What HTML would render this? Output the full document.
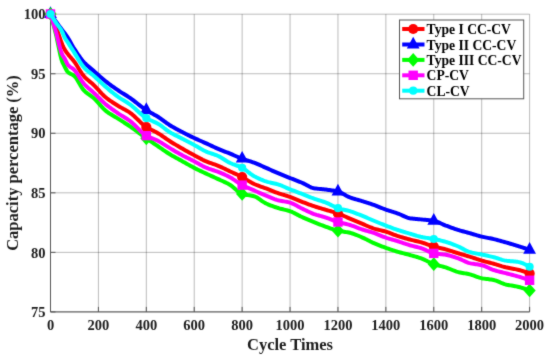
<!DOCTYPE html>
<html><head><meta charset="utf-8"><style>
html,body{margin:0;padding:0;background:#fff;}
body{width:550px;height:360px;overflow:hidden;}
svg{display:block;}
#w{width:550px;height:360px;}
.t{font-family:"Liberation Serif",serif;font-weight:bold;font-size:14.5px;fill:#1c1c1c;}
.lab{font-family:"Liberation Serif",serif;font-weight:bold;font-size:16.5px;fill:#1c1c1c;}
.lg{font-family:"Liberation Serif",serif;font-weight:bold;font-size:13.6px;fill:#000;}
</style></head><body>
<div id="w"><svg width="550" height="360" viewBox="0 0 550 360">
<defs><filter id="b" x="0" y="0" width="550" height="360" filterUnits="userSpaceOnUse" color-interpolation-filters="sRGB"><feConvolveMatrix order="3" kernelMatrix="0.02 0.08 0.02 0.08 0.60 0.08 0.02 0.08 0.02" divisor="1" edgeMode="duplicate"/></filter></defs>
<rect width="550" height="360" fill="#fff"/>
<g filter="url(#b)">
<rect width="550" height="360" fill="#fff"/>
<line x1="50.50" y1="14.2" x2="50.50" y2="311.9" stroke="#000" stroke-opacity="0.27" stroke-width="1"/>
<line x1="98.41" y1="14.2" x2="98.41" y2="311.9" stroke="#000" stroke-opacity="0.27" stroke-width="1"/>
<line x1="146.32" y1="14.2" x2="146.32" y2="311.9" stroke="#000" stroke-opacity="0.27" stroke-width="1"/>
<line x1="194.23" y1="14.2" x2="194.23" y2="311.9" stroke="#000" stroke-opacity="0.27" stroke-width="1"/>
<line x1="242.14" y1="14.2" x2="242.14" y2="311.9" stroke="#000" stroke-opacity="0.27" stroke-width="1"/>
<line x1="290.05" y1="14.2" x2="290.05" y2="311.9" stroke="#000" stroke-opacity="0.27" stroke-width="1"/>
<line x1="337.96" y1="14.2" x2="337.96" y2="311.9" stroke="#000" stroke-opacity="0.27" stroke-width="1"/>
<line x1="385.87" y1="14.2" x2="385.87" y2="311.9" stroke="#000" stroke-opacity="0.27" stroke-width="1"/>
<line x1="433.78" y1="14.2" x2="433.78" y2="311.9" stroke="#000" stroke-opacity="0.27" stroke-width="1"/>
<line x1="481.69" y1="14.2" x2="481.69" y2="311.9" stroke="#000" stroke-opacity="0.27" stroke-width="1"/>
<line x1="529.60" y1="14.2" x2="529.60" y2="311.9" stroke="#000" stroke-opacity="0.27" stroke-width="1"/>
<line x1="50.5" y1="14.20" x2="529.6" y2="14.20" stroke="#000" stroke-opacity="0.27" stroke-width="1"/>
<line x1="50.5" y1="73.74" x2="529.6" y2="73.74" stroke="#000" stroke-opacity="0.27" stroke-width="1"/>
<line x1="50.5" y1="133.28" x2="529.6" y2="133.28" stroke="#000" stroke-opacity="0.27" stroke-width="1"/>
<line x1="50.5" y1="192.82" x2="529.6" y2="192.82" stroke="#000" stroke-opacity="0.27" stroke-width="1"/>
<line x1="50.5" y1="252.36" x2="529.6" y2="252.36" stroke="#000" stroke-opacity="0.27" stroke-width="1"/>
<line x1="50.5" y1="311.90" x2="529.6" y2="311.90" stroke="#000" stroke-opacity="0.27" stroke-width="1"/>
<line x1="50.50" y1="311.9" x2="50.50" y2="306.9" stroke="#555" stroke-width="1"/>
<line x1="98.41" y1="311.9" x2="98.41" y2="306.9" stroke="#555" stroke-width="1"/>
<line x1="146.32" y1="311.9" x2="146.32" y2="306.9" stroke="#555" stroke-width="1"/>
<line x1="194.23" y1="311.9" x2="194.23" y2="306.9" stroke="#555" stroke-width="1"/>
<line x1="242.14" y1="311.9" x2="242.14" y2="306.9" stroke="#555" stroke-width="1"/>
<line x1="290.05" y1="311.9" x2="290.05" y2="306.9" stroke="#555" stroke-width="1"/>
<line x1="337.96" y1="311.9" x2="337.96" y2="306.9" stroke="#555" stroke-width="1"/>
<line x1="385.87" y1="311.9" x2="385.87" y2="306.9" stroke="#555" stroke-width="1"/>
<line x1="433.78" y1="311.9" x2="433.78" y2="306.9" stroke="#555" stroke-width="1"/>
<line x1="481.69" y1="311.9" x2="481.69" y2="306.9" stroke="#555" stroke-width="1"/>
<line x1="529.60" y1="311.9" x2="529.60" y2="306.9" stroke="#555" stroke-width="1"/>
<line x1="50.5" y1="14.20" x2="55.5" y2="14.20" stroke="#555" stroke-width="1"/>
<line x1="50.5" y1="73.74" x2="55.5" y2="73.74" stroke="#555" stroke-width="1"/>
<line x1="50.5" y1="133.28" x2="55.5" y2="133.28" stroke="#555" stroke-width="1"/>
<line x1="50.5" y1="192.82" x2="55.5" y2="192.82" stroke="#555" stroke-width="1"/>
<line x1="50.5" y1="252.36" x2="55.5" y2="252.36" stroke="#555" stroke-width="1"/>
<line x1="50.5" y1="311.90" x2="55.5" y2="311.90" stroke="#555" stroke-width="1"/>
<path d="M50.5,14.2 V311.9 H529.6" fill="none" stroke="#555" stroke-width="1"/>
<path d="M50.50,14.00 L51.70,16.60 L52.90,19.33 L54.09,22.18 L55.29,25.13 L56.49,28.18 L57.69,31.51 L58.88,35.10 L60.08,38.70 L61.28,42.08 L62.48,45.00 L63.68,47.61 L64.87,49.85 L66.07,51.71 L67.27,53.33 L68.47,54.86 L69.66,56.29 L70.86,57.63 L72.06,58.97 L73.26,60.37 L74.45,61.91 L75.65,63.64 L76.85,65.51 L78.05,67.45 L79.25,69.42 L80.44,71.35 L81.64,73.19 L82.84,74.86 L84.04,76.33 L85.23,77.60 L86.43,78.76 L87.63,79.83 L88.83,80.85 L90.03,81.83 L91.22,82.82 L92.42,83.84 L93.62,84.92 L94.82,86.08 L96.01,87.31 L97.21,88.60 L98.41,89.91 L99.61,91.23 L100.81,92.55 L102.00,93.83 L103.20,95.06 L104.40,96.22 L105.60,97.29 L106.79,98.27 L107.99,99.19 L109.19,100.07 L110.39,100.91 L111.59,101.71 L112.78,102.50 L113.98,103.26 L115.18,104.01 L116.38,104.76 L117.57,105.50 L118.77,106.24 L119.97,106.94 L121.17,107.62 L122.36,108.27 L123.56,108.92 L124.76,109.56 L125.96,110.23 L127.16,110.92 L128.35,111.65 L129.55,112.42 L130.75,113.27 L131.95,114.20 L133.14,115.22 L134.34,116.29 L135.54,117.42 L136.74,118.57 L137.94,119.75 L139.13,120.92 L140.33,122.07 L141.53,123.20 L142.73,124.27 L143.92,125.28 L145.12,126.21 L146.32,127.05 L147.52,127.80 L148.72,128.48 L149.91,129.12 L151.11,129.73 L152.31,130.32 L153.51,130.90 L154.70,131.48 L155.90,132.09 L157.10,132.74 L158.30,133.43 L159.50,134.17 L160.69,134.95 L161.89,135.75 L163.09,136.57 L164.29,137.41 L165.48,138.24 L166.68,139.07 L167.88,139.89 L169.08,140.68 L170.28,141.45 L171.47,142.20 L172.67,142.94 L173.87,143.67 L175.07,144.39 L176.26,145.10 L177.46,145.81 L178.66,146.51 L179.86,147.21 L181.05,147.91 L182.25,148.60 L183.45,149.28 L184.65,149.96 L185.85,150.64 L187.04,151.31 L188.24,151.98 L189.44,152.64 L190.64,153.30 L191.83,153.95 L193.03,154.60 L194.23,155.24 L195.43,155.89 L196.63,156.54 L197.82,157.20 L199.02,157.85 L200.22,158.50 L201.42,159.13 L202.61,159.75 L203.81,160.34 L205.01,160.90 L206.21,161.42 L207.41,161.91 L208.60,162.37 L209.80,162.81 L211.00,163.23 L212.20,163.64 L213.39,164.05 L214.59,164.47 L215.79,164.90 L216.99,165.35 L218.19,165.84 L219.38,166.35 L220.58,166.88 L221.78,167.43 L222.98,167.99 L224.17,168.57 L225.37,169.15 L226.57,169.73 L227.77,170.31 L228.96,170.88 L230.16,171.44 L231.36,171.99 L232.56,172.54 L233.76,173.08 L234.95,173.61 L236.15,174.16 L237.35,174.70 L238.55,175.26 L239.74,175.83 L240.94,176.42 L242.14,177.03 L243.34,177.68 L244.54,178.38 L245.73,179.10 L246.93,179.85 L248.13,180.61 L249.33,181.36 L250.52,182.08 L251.72,182.77 L252.92,183.41 L254.12,183.99 L255.32,184.51 L256.51,185.00 L257.71,185.47 L258.91,185.91 L260.11,186.34 L261.30,186.77 L262.50,187.18 L263.70,187.61 L264.90,188.04 L266.10,188.49 L267.29,188.96 L268.49,189.43 L269.69,189.91 L270.89,190.39 L272.08,190.87 L273.28,191.35 L274.48,191.81 L275.68,192.27 L276.87,192.72 L278.07,193.14 L279.27,193.55 L280.47,193.94 L281.67,194.31 L282.86,194.68 L284.06,195.04 L285.26,195.40 L286.46,195.76 L287.65,196.14 L288.85,196.54 L290.05,196.95 L291.25,197.39 L292.45,197.85 L293.64,198.34 L294.84,198.83 L296.04,199.34 L297.24,199.84 L298.43,200.35 L299.63,200.85 L300.83,201.33 L302.03,201.81 L303.23,202.27 L304.42,202.72 L305.62,203.18 L306.82,203.63 L308.02,204.08 L309.21,204.52 L310.41,204.95 L311.61,205.38 L312.81,205.79 L314.00,206.20 L315.20,206.59 L316.40,206.98 L317.60,207.35 L318.80,207.72 L319.99,208.08 L321.19,208.44 L322.39,208.80 L323.59,209.16 L324.78,209.51 L325.98,209.87 L327.18,210.23 L328.38,210.57 L329.58,210.91 L330.77,211.25 L331.97,211.58 L333.17,211.92 L334.37,212.28 L335.56,212.65 L336.76,213.03 L337.96,213.44 L339.16,213.89 L340.36,214.37 L341.55,214.87 L342.75,215.40 L343.95,215.95 L345.15,216.50 L346.34,217.06 L347.54,217.61 L348.74,218.15 L349.94,218.67 L351.14,219.18 L352.33,219.68 L353.53,220.19 L354.73,220.69 L355.93,221.19 L357.12,221.69 L358.32,222.18 L359.52,222.68 L360.72,223.17 L361.92,223.67 L363.11,224.17 L364.31,224.68 L365.51,225.21 L366.71,225.73 L367.90,226.25 L369.10,226.76 L370.30,227.24 L371.50,227.71 L372.69,228.15 L373.89,228.55 L375.09,228.91 L376.29,229.24 L377.49,229.54 L378.68,229.84 L379.88,230.12 L381.08,230.40 L382.28,230.68 L383.47,230.98 L384.67,231.30 L385.87,231.65 L387.07,232.03 L388.27,232.45 L389.46,232.89 L390.66,233.35 L391.86,233.82 L393.06,234.30 L394.25,234.76 L395.45,235.22 L396.65,235.65 L397.85,236.05 L399.05,236.44 L400.24,236.81 L401.44,237.17 L402.64,237.52 L403.84,237.87 L405.03,238.21 L406.23,238.54 L407.43,238.87 L408.63,239.20 L409.82,239.52 L411.02,239.83 L412.22,240.13 L413.42,240.41 L414.62,240.70 L415.81,240.98 L417.01,241.26 L418.21,241.55 L419.41,241.85 L420.60,242.16 L421.80,242.49 L423.00,242.85 L424.20,243.25 L425.40,243.66 L426.59,244.10 L427.79,244.53 L428.99,244.97 L430.19,245.40 L431.38,245.81 L432.58,246.20 L433.78,246.55 L434.98,246.87 L436.18,247.17 L437.37,247.44 L438.57,247.71 L439.77,247.97 L440.97,248.23 L442.16,248.50 L443.36,248.77 L444.56,249.06 L445.76,249.37 L446.96,249.70 L448.15,250.06 L449.35,250.43 L450.55,250.82 L451.75,251.21 L452.94,251.61 L454.14,252.00 L455.34,252.40 L456.54,252.78 L457.74,253.15 L458.93,253.52 L460.13,253.87 L461.33,254.22 L462.53,254.57 L463.72,254.92 L464.92,255.26 L466.12,255.61 L467.32,255.96 L468.51,256.32 L469.71,256.69 L470.91,257.07 L472.11,257.45 L473.31,257.85 L474.50,258.25 L475.70,258.65 L476.90,259.05 L478.10,259.45 L479.29,259.84 L480.49,260.21 L481.69,260.57 L482.89,260.91 L484.09,261.24 L485.28,261.56 L486.48,261.87 L487.68,262.18 L488.88,262.48 L490.07,262.79 L491.27,263.10 L492.47,263.42 L493.67,263.75 L494.87,264.09 L496.06,264.45 L497.26,264.82 L498.46,265.20 L499.66,265.57 L500.85,265.94 L502.05,266.31 L503.25,266.65 L504.45,266.98 L505.64,267.28 L506.84,267.55 L508.04,267.80 L509.24,268.04 L510.44,268.26 L511.63,268.47 L512.83,268.69 L514.03,268.92 L515.23,269.15 L516.42,269.41 L517.62,269.68 L518.82,269.98 L520.02,270.30 L521.22,270.64 L522.41,270.99 L523.61,271.35 L524.81,271.74 L526.01,272.13 L527.20,272.54 L528.40,272.95 L529.60,273.38" fill="none" stroke="#ff0000" stroke-width="4.0" stroke-linejoin="round" stroke-linecap="round"/>
<circle cx="50.50" cy="14.00" r="5.1" fill="#ff0000"/>
<circle cx="146.32" cy="127.05" r="5.1" fill="#ff0000"/>
<circle cx="242.14" cy="177.03" r="5.1" fill="#ff0000"/>
<circle cx="337.96" cy="213.44" r="5.1" fill="#ff0000"/>
<circle cx="433.78" cy="246.55" r="5.1" fill="#ff0000"/>
<circle cx="529.60" cy="273.38" r="5.1" fill="#ff0000"/>
<path d="M50.50,14.00 L51.70,15.66 L52.90,17.31 L54.09,18.97 L55.29,20.62 L56.49,22.27 L57.69,23.92 L58.88,25.57 L60.08,27.20 L61.28,28.79 L62.48,30.37 L63.68,31.95 L64.87,33.56 L66.07,35.22 L67.27,36.95 L68.47,38.79 L69.66,40.82 L70.86,42.97 L72.06,45.12 L73.26,47.20 L74.45,49.10 L75.65,50.94 L76.85,52.76 L78.05,54.53 L79.25,56.26 L80.44,57.91 L81.64,59.48 L82.84,60.95 L84.04,62.31 L85.23,63.56 L86.43,64.72 L87.63,65.82 L88.83,66.86 L90.03,67.87 L91.22,68.87 L92.42,69.87 L93.62,70.89 L94.82,71.94 L96.01,73.00 L97.21,74.06 L98.41,75.12 L99.61,76.18 L100.81,77.22 L102.00,78.25 L103.20,79.26 L104.40,80.25 L105.60,81.22 L106.79,82.16 L107.99,83.09 L109.19,83.99 L110.39,84.89 L111.59,85.76 L112.78,86.63 L113.98,87.48 L115.18,88.32 L116.38,89.15 L117.57,89.97 L118.77,90.78 L119.97,91.57 L121.17,92.33 L122.36,93.08 L123.56,93.82 L124.76,94.55 L125.96,95.30 L127.16,96.05 L128.35,96.82 L129.55,97.62 L130.75,98.45 L131.95,99.31 L133.14,100.21 L134.34,101.12 L135.54,102.06 L136.74,103.00 L137.94,103.95 L139.13,104.90 L140.33,105.83 L141.53,106.75 L142.73,107.65 L143.92,108.52 L145.12,109.36 L146.32,110.15 L147.52,110.90 L148.72,111.61 L149.91,112.28 L151.11,112.94 L152.31,113.59 L153.51,114.23 L154.70,114.89 L155.90,115.56 L157.10,116.27 L158.30,117.01 L159.50,117.80 L160.69,118.64 L161.89,119.51 L163.09,120.39 L164.29,121.28 L165.48,122.17 L166.68,123.05 L167.88,123.89 L169.08,124.70 L170.28,125.46 L171.47,126.19 L172.67,126.90 L173.87,127.59 L175.07,128.26 L176.26,128.92 L177.46,129.57 L178.66,130.21 L179.86,130.84 L181.05,131.47 L182.25,132.10 L183.45,132.73 L184.65,133.34 L185.85,133.95 L187.04,134.56 L188.24,135.15 L189.44,135.75 L190.64,136.33 L191.83,136.91 L193.03,137.48 L194.23,138.05 L195.43,138.60 L196.63,139.15 L197.82,139.69 L199.02,140.22 L200.22,140.74 L201.42,141.27 L202.61,141.79 L203.81,142.32 L205.01,142.85 L206.21,143.39 L207.41,143.94 L208.60,144.49 L209.80,145.05 L211.00,145.61 L212.20,146.16 L213.39,146.72 L214.59,147.27 L215.79,147.81 L216.99,148.34 L218.19,148.86 L219.38,149.36 L220.58,149.86 L221.78,150.34 L222.98,150.82 L224.17,151.30 L225.37,151.77 L226.57,152.25 L227.77,152.73 L228.96,153.21 L230.16,153.70 L231.36,154.20 L232.56,154.71 L233.76,155.23 L234.95,155.75 L236.15,156.26 L237.35,156.78 L238.55,157.28 L239.74,157.77 L240.94,158.25 L242.14,158.70 L243.34,159.14 L244.54,159.54 L245.73,159.94 L246.93,160.32 L248.13,160.70 L249.33,161.07 L250.52,161.46 L251.72,161.86 L252.92,162.27 L254.12,162.71 L255.32,163.18 L256.51,163.66 L257.71,164.16 L258.91,164.68 L260.11,165.20 L261.30,165.74 L262.50,166.27 L263.70,166.81 L264.90,167.35 L266.10,167.87 L267.29,168.40 L268.49,168.94 L269.69,169.48 L270.89,170.02 L272.08,170.56 L273.28,171.10 L274.48,171.64 L275.68,172.17 L276.87,172.69 L278.07,173.20 L279.27,173.71 L280.47,174.20 L281.67,174.69 L282.86,175.17 L284.06,175.65 L285.26,176.13 L286.46,176.60 L287.65,177.08 L288.85,177.55 L290.05,178.03 L291.25,178.50 L292.45,178.97 L293.64,179.44 L294.84,179.90 L296.04,180.36 L297.24,180.83 L298.43,181.30 L299.63,181.78 L300.83,182.27 L302.03,182.77 L303.23,183.31 L304.42,183.91 L305.62,184.55 L306.82,185.21 L308.02,185.86 L309.21,186.48 L310.41,187.05 L311.61,187.54 L312.81,187.94 L314.00,188.23 L315.20,188.43 L316.40,188.60 L317.60,188.74 L318.80,188.87 L319.99,188.98 L321.19,189.09 L322.39,189.20 L323.59,189.32 L324.78,189.45 L325.98,189.60 L327.18,189.76 L328.38,189.91 L329.58,190.07 L330.77,190.24 L331.97,190.41 L333.17,190.60 L334.37,190.80 L335.56,191.03 L336.76,191.28 L337.96,191.56 L339.16,191.92 L340.36,192.40 L341.55,192.98 L342.75,193.62 L343.95,194.31 L345.15,195.01 L346.34,195.70 L347.54,196.35 L348.74,196.94 L349.94,197.44 L351.14,197.87 L352.33,198.27 L353.53,198.64 L354.73,199.00 L355.93,199.34 L357.12,199.67 L358.32,200.01 L359.52,200.34 L360.72,200.69 L361.92,201.06 L363.11,201.43 L364.31,201.80 L365.51,202.18 L366.71,202.55 L367.90,202.93 L369.10,203.32 L370.30,203.71 L371.50,204.11 L372.69,204.52 L373.89,204.94 L375.09,205.37 L376.29,205.83 L377.49,206.31 L378.68,206.79 L379.88,207.29 L381.08,207.78 L382.28,208.26 L383.47,208.74 L384.67,209.20 L385.87,209.64 L387.07,210.05 L388.27,210.45 L389.46,210.83 L390.66,211.21 L391.86,211.58 L393.06,211.95 L394.25,212.32 L395.45,212.70 L396.65,213.10 L397.85,213.52 L399.05,213.97 L400.24,214.49 L401.44,215.03 L402.64,215.59 L403.84,216.15 L405.03,216.69 L406.23,217.18 L407.43,217.62 L408.63,217.97 L409.82,218.23 L411.02,218.41 L412.22,218.57 L413.42,218.71 L414.62,218.84 L415.81,218.95 L417.01,219.05 L418.21,219.16 L419.41,219.26 L420.60,219.38 L421.80,219.50 L423.00,219.63 L424.20,219.75 L425.40,219.86 L426.59,219.98 L427.79,220.10 L428.99,220.22 L430.19,220.36 L431.38,220.52 L432.58,220.69 L433.78,220.89 L434.98,221.16 L436.18,221.51 L437.37,221.93 L438.57,222.41 L439.77,222.93 L440.97,223.47 L442.16,224.02 L443.36,224.56 L444.56,225.07 L445.76,225.55 L446.96,225.99 L448.15,226.45 L449.35,226.89 L450.55,227.34 L451.75,227.78 L452.94,228.22 L454.14,228.65 L455.34,229.06 L456.54,229.46 L457.74,229.84 L458.93,230.21 L460.13,230.56 L461.33,230.90 L462.53,231.23 L463.72,231.55 L464.92,231.87 L466.12,232.18 L467.32,232.50 L468.51,232.83 L469.71,233.16 L470.91,233.51 L472.11,233.86 L473.31,234.22 L474.50,234.59 L475.70,234.95 L476.90,235.31 L478.10,235.66 L479.29,235.99 L480.49,236.31 L481.69,236.61 L482.89,236.89 L484.09,237.15 L485.28,237.40 L486.48,237.64 L487.68,237.87 L488.88,238.10 L490.07,238.33 L491.27,238.58 L492.47,238.83 L493.67,239.10 L494.87,239.39 L496.06,239.68 L497.26,239.99 L498.46,240.31 L499.66,240.63 L500.85,240.96 L502.05,241.30 L503.25,241.63 L504.45,241.97 L505.64,242.31 L506.84,242.66 L508.04,243.00 L509.24,243.36 L510.44,243.71 L511.63,244.07 L512.83,244.44 L514.03,244.81 L515.23,245.18 L516.42,245.55 L517.62,245.93 L518.82,246.31 L520.02,246.69 L521.22,247.08 L522.41,247.47 L523.61,247.87 L524.81,248.27 L526.01,248.67 L527.20,249.07 L528.40,249.48 L529.60,249.89" fill="none" stroke="#0000ff" stroke-width="4.0" stroke-linejoin="round" stroke-linecap="round"/>
<polygon points="50.50,6.20 56.90,17.90 44.10,17.90" fill="#0000ff"/>
<polygon points="146.32,102.35 152.72,114.05 139.92,114.05" fill="#0000ff"/>
<polygon points="242.14,150.90 248.54,162.60 235.74,162.60" fill="#0000ff"/>
<polygon points="337.96,183.76 344.36,195.46 331.56,195.46" fill="#0000ff"/>
<polygon points="433.78,213.09 440.18,224.79 427.38,224.79" fill="#0000ff"/>
<polygon points="529.60,242.09 536.00,253.79 523.20,253.79" fill="#0000ff"/>
<path d="M50.50,14.00 L51.70,18.18 L52.90,22.53 L54.09,27.04 L55.29,31.72 L56.49,36.62 L57.69,42.25 L58.88,48.20 L60.08,53.91 L61.28,58.77 L62.48,62.26 L63.68,64.74 L64.87,67.09 L66.07,69.43 L67.27,71.36 L68.47,72.58 L69.66,73.36 L70.86,73.94 L72.06,74.49 L73.26,75.15 L74.45,76.09 L75.65,77.47 L76.85,79.19 L78.05,81.16 L79.25,83.25 L80.44,85.35 L81.64,87.34 L82.84,89.11 L84.04,90.53 L85.23,91.68 L86.43,92.69 L87.63,93.61 L88.83,94.47 L90.03,95.31 L91.22,96.16 L92.42,97.05 L93.62,98.03 L94.82,99.13 L96.01,100.35 L97.21,101.65 L98.41,103.00 L99.61,104.39 L100.81,105.77 L102.00,107.12 L103.20,108.41 L104.40,109.60 L105.60,110.68 L106.79,111.62 L107.99,112.49 L109.19,113.31 L110.39,114.08 L111.59,114.81 L112.78,115.53 L113.98,116.23 L115.18,116.93 L116.38,117.65 L117.57,118.39 L118.77,119.15 L119.97,119.91 L121.17,120.67 L122.36,121.42 L123.56,122.18 L124.76,122.94 L125.96,123.70 L127.16,124.48 L128.35,125.27 L129.55,126.07 L130.75,126.90 L131.95,127.74 L133.14,128.60 L134.34,129.47 L135.54,130.36 L136.74,131.26 L137.94,132.16 L139.13,133.06 L140.33,133.96 L141.53,134.86 L142.73,135.75 L143.92,136.64 L145.12,137.50 L146.32,138.36 L147.52,139.19 L148.72,140.02 L149.91,140.84 L151.11,141.65 L152.31,142.45 L153.51,143.26 L154.70,144.06 L155.90,144.86 L157.10,145.67 L158.30,146.47 L159.50,147.29 L160.69,148.12 L161.89,148.95 L163.09,149.78 L164.29,150.61 L165.48,151.42 L166.68,152.23 L167.88,153.02 L169.08,153.78 L170.28,154.52 L171.47,155.24 L172.67,155.93 L173.87,156.61 L175.07,157.28 L176.26,157.93 L177.46,158.58 L178.66,159.23 L179.86,159.88 L181.05,160.54 L182.25,161.21 L183.45,161.88 L184.65,162.56 L185.85,163.25 L187.04,163.93 L188.24,164.62 L189.44,165.29 L190.64,165.96 L191.83,166.62 L193.03,167.26 L194.23,167.89 L195.43,168.50 L196.63,169.10 L197.82,169.68 L199.02,170.26 L200.22,170.83 L201.42,171.39 L202.61,171.95 L203.81,172.51 L205.01,173.07 L206.21,173.63 L207.41,174.19 L208.60,174.74 L209.80,175.28 L211.00,175.83 L212.20,176.37 L213.39,176.91 L214.59,177.46 L215.79,178.01 L216.99,178.56 L218.19,179.12 L219.38,179.67 L220.58,180.21 L221.78,180.74 L222.98,181.28 L224.17,181.82 L225.37,182.38 L226.57,182.96 L227.77,183.57 L228.96,184.22 L230.16,184.91 L231.36,185.72 L232.56,186.67 L233.76,187.70 L234.95,188.78 L236.15,189.87 L237.35,190.92 L238.55,191.89 L239.74,192.74 L240.94,193.43 L242.14,193.92 L243.34,194.25 L244.54,194.52 L245.73,194.74 L246.93,194.93 L248.13,195.11 L249.33,195.28 L250.52,195.47 L251.72,195.68 L252.92,195.95 L254.12,196.27 L255.32,196.73 L256.51,197.32 L257.71,198.03 L258.91,198.82 L260.11,199.66 L261.30,200.51 L262.50,201.35 L263.70,202.15 L264.90,202.87 L266.10,203.48 L267.29,204.02 L268.49,204.54 L269.69,205.04 L270.89,205.52 L272.08,205.98 L273.28,206.42 L274.48,206.84 L275.68,207.25 L276.87,207.65 L278.07,208.03 L279.27,208.39 L280.47,208.71 L281.67,209.02 L282.86,209.31 L284.06,209.59 L285.26,209.88 L286.46,210.18 L287.65,210.51 L288.85,210.86 L290.05,211.25 L291.25,211.70 L292.45,212.21 L293.64,212.77 L294.84,213.37 L296.04,213.99 L297.24,214.63 L298.43,215.26 L299.63,215.89 L300.83,216.49 L302.03,217.05 L303.23,217.59 L304.42,218.12 L305.62,218.64 L306.82,219.16 L308.02,219.67 L309.21,220.17 L310.41,220.67 L311.61,221.17 L312.81,221.66 L314.00,222.14 L315.20,222.63 L316.40,223.11 L317.60,223.59 L318.80,224.07 L319.99,224.54 L321.19,225.00 L322.39,225.46 L323.59,225.91 L324.78,226.35 L325.98,226.78 L327.18,227.21 L328.38,227.65 L329.58,228.08 L330.77,228.51 L331.97,228.93 L333.17,229.33 L334.37,229.72 L335.56,230.08 L336.76,230.41 L337.96,230.70 L339.16,230.95 L340.36,231.18 L341.55,231.38 L342.75,231.56 L343.95,231.74 L345.15,231.91 L346.34,232.10 L347.54,232.31 L348.74,232.54 L349.94,232.81 L351.14,233.12 L352.33,233.48 L353.53,233.88 L354.73,234.31 L355.93,234.77 L357.12,235.25 L358.32,235.76 L359.52,236.27 L360.72,236.78 L361.92,237.29 L363.11,237.82 L364.31,238.39 L365.51,238.98 L366.71,239.59 L367.90,240.22 L369.10,240.84 L370.30,241.46 L371.50,242.05 L372.69,242.63 L373.89,243.17 L375.09,243.68 L376.29,244.19 L377.49,244.68 L378.68,245.15 L379.88,245.62 L381.08,246.08 L382.28,246.53 L383.47,246.98 L384.67,247.41 L385.87,247.85 L387.07,248.27 L388.27,248.70 L389.46,249.12 L390.66,249.53 L391.86,249.93 L393.06,250.33 L394.25,250.72 L395.45,251.10 L396.65,251.46 L397.85,251.82 L399.05,252.16 L400.24,252.49 L401.44,252.80 L402.64,253.11 L403.84,253.41 L405.03,253.71 L406.23,254.01 L407.43,254.31 L408.63,254.63 L409.82,254.96 L411.02,255.30 L412.22,255.64 L413.42,255.98 L414.62,256.33 L415.81,256.68 L417.01,257.04 L418.21,257.42 L419.41,257.81 L420.60,258.22 L421.80,258.65 L423.00,259.13 L424.20,259.65 L425.40,260.22 L426.59,260.82 L427.79,261.42 L428.99,262.03 L430.19,262.62 L431.38,263.17 L432.58,263.68 L433.78,264.13 L434.98,264.52 L436.18,264.88 L437.37,265.21 L438.57,265.52 L439.77,265.82 L440.97,266.12 L442.16,266.42 L443.36,266.73 L444.56,267.07 L445.76,267.43 L446.96,267.84 L448.15,268.29 L449.35,268.76 L450.55,269.26 L451.75,269.76 L452.94,270.25 L454.14,270.73 L455.34,271.17 L456.54,271.57 L457.74,271.92 L458.93,272.22 L460.13,272.48 L461.33,272.72 L462.53,272.94 L463.72,273.16 L464.92,273.37 L466.12,273.58 L467.32,273.82 L468.51,274.07 L469.71,274.35 L470.91,274.67 L472.11,275.05 L473.31,275.46 L474.50,275.89 L475.70,276.33 L476.90,276.77 L478.10,277.19 L479.29,277.57 L480.49,277.91 L481.69,278.19 L482.89,278.42 L484.09,278.61 L485.28,278.79 L486.48,278.94 L487.68,279.09 L488.88,279.24 L490.07,279.40 L491.27,279.57 L492.47,279.77 L493.67,280.01 L494.87,280.32 L496.06,280.71 L497.26,281.16 L498.46,281.66 L499.66,282.18 L500.85,282.71 L502.05,283.22 L503.25,283.69 L504.45,284.11 L505.64,284.45 L506.84,284.73 L508.04,284.97 L509.24,285.19 L510.44,285.39 L511.63,285.59 L512.83,285.78 L514.03,285.97 L515.23,286.18 L516.42,286.41 L517.62,286.68 L518.82,286.97 L520.02,287.28 L521.22,287.61 L522.41,287.97 L523.61,288.34 L524.81,288.73 L526.01,289.14 L527.20,289.56 L528.40,289.99 L529.60,290.44" fill="none" stroke="#00ff00" stroke-width="4.0" stroke-linejoin="round" stroke-linecap="round"/>
<polygon points="50.50,7.20 56.60,14.00 50.50,20.80 44.40,14.00" fill="#00ff00"/>
<polygon points="146.32,131.56 152.42,138.36 146.32,145.16 140.22,138.36" fill="#00ff00"/>
<polygon points="242.14,187.12 248.24,193.92 242.14,200.72 236.04,193.92" fill="#00ff00"/>
<polygon points="337.96,223.90 344.06,230.70 337.96,237.50 331.86,230.70" fill="#00ff00"/>
<polygon points="433.78,257.33 439.88,264.13 433.78,270.93 427.68,264.13" fill="#00ff00"/>
<polygon points="529.60,283.64 535.70,290.44 529.60,297.24 523.50,290.44" fill="#00ff00"/>
<path d="M50.50,14.00 L51.70,17.81 L52.90,21.72 L54.09,25.70 L55.29,29.77 L56.49,33.99 L57.69,38.74 L58.88,43.71 L60.08,48.41 L61.28,52.36 L62.48,55.11 L63.68,56.97 L64.87,58.83 L66.07,61.34 L67.27,63.89 L68.47,65.51 L69.66,66.56 L70.86,67.37 L72.06,68.12 L73.26,68.97 L74.45,70.10 L75.65,71.53 L76.85,73.20 L78.05,75.02 L79.25,76.93 L80.44,78.84 L81.64,80.67 L82.84,82.36 L84.04,83.82 L85.23,85.10 L86.43,86.28 L87.63,87.40 L88.83,88.46 L90.03,89.49 L91.22,90.51 L92.42,91.56 L93.62,92.64 L94.82,93.77 L96.01,94.93 L97.21,96.12 L98.41,97.32 L99.61,98.52 L100.81,99.71 L102.00,100.88 L103.20,102.03 L104.40,103.12 L105.60,104.17 L106.79,105.16 L107.99,106.11 L109.19,107.04 L110.39,107.94 L111.59,108.81 L112.78,109.67 L113.98,110.51 L115.18,111.34 L116.38,112.17 L117.57,112.99 L118.77,113.80 L119.97,114.58 L121.17,115.33 L122.36,116.07 L123.56,116.80 L124.76,117.53 L125.96,118.28 L127.16,119.05 L128.35,119.85 L129.55,120.69 L130.75,121.60 L131.95,122.60 L133.14,123.68 L134.34,124.82 L135.54,126.00 L136.74,127.20 L137.94,128.42 L139.13,129.62 L140.33,130.79 L141.53,131.92 L142.73,132.99 L143.92,133.97 L145.12,134.85 L146.32,135.62 L147.52,136.28 L148.72,136.87 L149.91,137.41 L151.11,137.91 L152.31,138.39 L153.51,138.86 L154.70,139.34 L155.90,139.84 L157.10,140.39 L158.30,140.99 L159.50,141.65 L160.69,142.35 L161.89,143.07 L163.09,143.83 L164.29,144.60 L165.48,145.38 L166.68,146.15 L167.88,146.92 L169.08,147.67 L170.28,148.39 L171.47,149.10 L172.67,149.81 L173.87,150.52 L175.07,151.22 L176.26,151.91 L177.46,152.60 L178.66,153.28 L179.86,153.95 L181.05,154.61 L182.25,155.26 L183.45,155.90 L184.65,156.51 L185.85,157.12 L187.04,157.72 L188.24,158.31 L189.44,158.91 L190.64,159.50 L191.83,160.10 L193.03,160.70 L194.23,161.32 L195.43,161.96 L196.63,162.63 L197.82,163.31 L199.02,163.99 L200.22,164.68 L201.42,165.35 L202.61,166.00 L203.81,166.61 L205.01,167.19 L206.21,167.72 L207.41,168.20 L208.60,168.65 L209.80,169.07 L211.00,169.47 L212.20,169.86 L213.39,170.25 L214.59,170.64 L215.79,171.05 L216.99,171.49 L218.19,171.95 L219.38,172.43 L220.58,172.91 L221.78,173.41 L222.98,173.92 L224.17,174.45 L225.37,174.99 L226.57,175.55 L227.77,176.13 L228.96,176.73 L230.16,177.36 L231.36,178.05 L232.56,178.80 L233.76,179.60 L234.95,180.43 L236.15,181.27 L237.35,182.11 L238.55,182.93 L239.74,183.72 L240.94,184.45 L242.14,185.12 L243.34,185.73 L244.54,186.31 L245.73,186.86 L246.93,187.39 L248.13,187.90 L249.33,188.40 L250.52,188.90 L251.72,189.40 L252.92,189.91 L254.12,190.43 L255.32,190.97 L256.51,191.51 L257.71,192.05 L258.91,192.59 L260.11,193.13 L261.30,193.66 L262.50,194.19 L263.70,194.70 L264.90,195.21 L266.10,195.70 L267.29,196.20 L268.49,196.70 L269.69,197.19 L270.89,197.69 L272.08,198.17 L273.28,198.63 L274.48,199.08 L275.68,199.49 L276.87,199.87 L278.07,200.21 L279.27,200.50 L280.47,200.75 L281.67,200.98 L282.86,201.19 L284.06,201.40 L285.26,201.60 L286.46,201.82 L287.65,202.06 L288.85,202.34 L290.05,202.66 L291.25,203.06 L292.45,203.53 L293.64,204.08 L294.84,204.68 L296.04,205.31 L297.24,205.97 L298.43,206.64 L299.63,207.29 L300.83,207.93 L302.03,208.52 L303.23,209.09 L304.42,209.68 L305.62,210.27 L306.82,210.85 L308.02,211.43 L309.21,212.00 L310.41,212.55 L311.61,213.07 L312.81,213.56 L314.00,214.02 L315.20,214.43 L316.40,214.82 L317.60,215.18 L318.80,215.52 L319.99,215.85 L321.19,216.18 L322.39,216.52 L323.59,216.86 L324.78,217.22 L325.98,217.60 L327.18,218.01 L328.38,218.45 L329.58,218.90 L330.77,219.37 L331.97,219.84 L333.17,220.31 L334.37,220.77 L335.56,221.21 L336.76,221.62 L337.96,222.00 L339.16,222.34 L340.36,222.66 L341.55,222.96 L342.75,223.24 L343.95,223.51 L345.15,223.79 L346.34,224.07 L347.54,224.37 L348.74,224.68 L349.94,225.02 L351.14,225.40 L352.33,225.80 L353.53,226.24 L354.73,226.69 L355.93,227.15 L357.12,227.61 L358.32,228.07 L359.52,228.52 L360.72,228.96 L361.92,229.37 L363.11,229.75 L364.31,230.12 L365.51,230.47 L366.71,230.81 L367.90,231.15 L369.10,231.49 L370.30,231.84 L371.50,232.20 L372.69,232.58 L373.89,232.97 L375.09,233.40 L376.29,233.85 L377.49,234.32 L378.68,234.81 L379.88,235.31 L381.08,235.81 L382.28,236.30 L383.47,236.77 L384.67,237.22 L385.87,237.65 L387.07,238.05 L388.27,238.42 L389.46,238.79 L390.66,239.14 L391.86,239.49 L393.06,239.83 L394.25,240.18 L395.45,240.53 L396.65,240.88 L397.85,241.25 L399.05,241.64 L400.24,242.04 L401.44,242.44 L402.64,242.85 L403.84,243.27 L405.03,243.68 L406.23,244.08 L407.43,244.47 L408.63,244.85 L409.82,245.22 L411.02,245.56 L412.22,245.87 L413.42,246.18 L414.62,246.47 L415.81,246.76 L417.01,247.06 L418.21,247.36 L419.41,247.68 L420.60,248.02 L421.80,248.39 L423.00,248.83 L424.20,249.34 L425.40,249.90 L426.59,250.49 L427.79,251.09 L428.99,251.67 L430.19,252.21 L431.38,252.68 L432.58,253.08 L433.78,253.36 L434.98,253.56 L436.18,253.72 L437.37,253.86 L438.57,253.97 L439.77,254.08 L440.97,254.19 L442.16,254.30 L443.36,254.43 L444.56,254.58 L445.76,254.76 L446.96,254.98 L448.15,255.24 L449.35,255.54 L450.55,255.87 L451.75,256.22 L452.94,256.60 L454.14,256.99 L455.34,257.39 L456.54,257.79 L457.74,258.20 L458.93,258.64 L460.13,259.14 L461.33,259.68 L462.53,260.24 L463.72,260.81 L464.92,261.37 L466.12,261.90 L467.32,262.38 L468.51,262.80 L469.71,263.14 L470.91,263.41 L472.11,263.63 L473.31,263.83 L474.50,264.01 L475.70,264.18 L476.90,264.34 L478.10,264.52 L479.29,264.72 L480.49,264.94 L481.69,265.21 L482.89,265.54 L484.09,265.96 L485.28,266.44 L486.48,266.96 L487.68,267.50 L488.88,268.06 L490.07,268.61 L491.27,269.13 L492.47,269.61 L493.67,270.03 L494.87,270.40 L496.06,270.74 L497.26,271.07 L498.46,271.39 L499.66,271.69 L500.85,271.99 L502.05,272.28 L503.25,272.57 L504.45,272.87 L505.64,273.18 L506.84,273.49 L508.04,273.80 L509.24,274.10 L510.44,274.40 L511.63,274.70 L512.83,275.01 L514.03,275.32 L515.23,275.64 L516.42,275.97 L517.62,276.31 L518.82,276.67 L520.02,277.03 L521.22,277.41 L522.41,277.79 L523.61,278.18 L524.81,278.58 L526.01,279.00 L527.20,279.41 L528.40,279.84 L529.60,280.27" fill="none" stroke="#ff00ff" stroke-width="4.0" stroke-linejoin="round" stroke-linecap="round"/>
<rect x="45.80" y="9.30" width="9.40" height="9.40" fill="#ff00ff"/>
<rect x="141.62" y="130.92" width="9.40" height="9.40" fill="#ff00ff"/>
<rect x="237.44" y="180.42" width="9.40" height="9.40" fill="#ff00ff"/>
<rect x="333.26" y="217.30" width="9.40" height="9.40" fill="#ff00ff"/>
<rect x="429.08" y="248.66" width="9.40" height="9.40" fill="#ff00ff"/>
<rect x="524.90" y="275.57" width="9.40" height="9.40" fill="#ff00ff"/>
<path d="M50.50,14.00 L51.70,15.95 L52.90,17.86 L54.09,19.75 L55.29,21.60 L56.49,23.41 L57.69,25.07 L58.88,26.66 L60.08,28.32 L61.28,30.17 L62.48,32.40 L63.68,35.33 L64.87,38.01 L66.07,39.95 L67.27,41.64 L68.47,43.43 L69.66,45.31 L70.86,47.21 L72.06,49.11 L73.26,51.01 L74.45,52.89 L75.65,54.84 L76.85,56.84 L78.05,58.85 L79.25,60.83 L80.44,62.73 L81.64,64.52 L82.84,66.14 L84.04,67.57 L85.23,68.81 L86.43,69.93 L87.63,70.96 L88.83,71.93 L90.03,72.87 L91.22,73.80 L92.42,74.75 L93.62,75.75 L94.82,76.81 L96.01,77.91 L97.21,79.02 L98.41,80.15 L99.61,81.28 L100.81,82.42 L102.00,83.54 L103.20,84.65 L104.40,85.74 L105.60,86.80 L106.79,87.83 L107.99,88.85 L109.19,89.86 L110.39,90.86 L111.59,91.84 L112.78,92.81 L113.98,93.76 L115.18,94.69 L116.38,95.59 L117.57,96.47 L118.77,97.31 L119.97,98.11 L121.17,98.87 L122.36,99.61 L123.56,100.33 L124.76,101.05 L125.96,101.78 L127.16,102.52 L128.35,103.30 L129.55,104.12 L130.75,104.99 L131.95,105.94 L133.14,106.95 L134.34,108.00 L135.54,109.09 L136.74,110.20 L137.94,111.31 L139.13,112.42 L140.33,113.51 L141.53,114.56 L142.73,115.56 L143.92,116.49 L145.12,117.36 L146.32,118.12 L147.52,118.81 L148.72,119.42 L149.91,119.99 L151.11,120.52 L152.31,121.03 L153.51,121.54 L154.70,122.07 L155.90,122.62 L157.10,123.23 L158.30,123.90 L159.50,124.65 L160.69,125.47 L161.89,126.35 L163.09,127.26 L164.29,128.20 L165.48,129.13 L166.68,130.04 L167.88,130.91 L169.08,131.73 L170.28,132.48 L171.47,133.18 L172.67,133.84 L173.87,134.48 L175.07,135.10 L176.26,135.71 L177.46,136.30 L178.66,136.90 L179.86,137.49 L181.05,138.10 L182.25,138.72 L183.45,139.34 L184.65,139.96 L185.85,140.58 L187.04,141.20 L188.24,141.82 L189.44,142.44 L190.64,143.07 L191.83,143.70 L193.03,144.33 L194.23,144.97 L195.43,145.63 L196.63,146.32 L197.82,147.02 L199.02,147.72 L200.22,148.43 L201.42,149.12 L202.61,149.79 L203.81,150.43 L205.01,151.03 L206.21,151.57 L207.41,152.07 L208.60,152.52 L209.80,152.95 L211.00,153.35 L212.20,153.75 L213.39,154.15 L214.59,154.56 L215.79,155.00 L216.99,155.48 L218.19,156.01 L219.38,156.61 L220.58,157.27 L221.78,157.99 L222.98,158.75 L224.17,159.52 L225.37,160.28 L226.57,161.04 L227.77,161.75 L228.96,162.41 L230.16,163.01 L231.36,163.53 L232.56,164.02 L233.76,164.47 L234.95,164.90 L236.15,165.32 L237.35,165.75 L238.55,166.19 L239.74,166.67 L240.94,167.19 L242.14,167.77 L243.34,168.45 L244.54,169.23 L245.73,170.09 L246.93,171.01 L248.13,171.96 L249.33,172.91 L250.52,173.84 L251.72,174.71 L252.92,175.52 L254.12,176.21 L255.32,176.85 L256.51,177.47 L257.71,178.07 L258.91,178.64 L260.11,179.19 L261.30,179.71 L262.50,180.20 L263.70,180.66 L264.90,181.08 L266.10,181.47 L267.29,181.83 L268.49,182.14 L269.69,182.42 L270.89,182.69 L272.08,182.94 L273.28,183.20 L274.48,183.46 L275.68,183.75 L276.87,184.06 L278.07,184.41 L279.27,184.80 L280.47,185.24 L281.67,185.72 L282.86,186.22 L284.06,186.74 L285.26,187.27 L286.46,187.81 L287.65,188.33 L288.85,188.85 L290.05,189.33 L291.25,189.81 L292.45,190.27 L293.64,190.73 L294.84,191.19 L296.04,191.64 L297.24,192.10 L298.43,192.55 L299.63,193.01 L300.83,193.47 L302.03,193.93 L303.23,194.40 L304.42,194.88 L305.62,195.36 L306.82,195.84 L308.02,196.33 L309.21,196.81 L310.41,197.28 L311.61,197.75 L312.81,198.20 L314.00,198.64 L315.20,199.06 L316.40,199.46 L317.60,199.84 L318.80,200.22 L319.99,200.59 L321.19,200.96 L322.39,201.35 L323.59,201.75 L324.78,202.17 L325.98,202.61 L327.18,203.11 L328.38,203.65 L329.58,204.24 L330.77,204.85 L331.97,205.46 L333.17,206.07 L334.37,206.66 L335.56,207.21 L336.76,207.70 L337.96,208.14 L339.16,208.51 L340.36,208.84 L341.55,209.15 L342.75,209.43 L343.95,209.70 L345.15,209.97 L346.34,210.25 L347.54,210.54 L348.74,210.85 L349.94,211.19 L351.14,211.57 L352.33,211.98 L353.53,212.40 L354.73,212.84 L355.93,213.30 L357.12,213.77 L358.32,214.25 L359.52,214.73 L360.72,215.21 L361.92,215.69 L363.11,216.18 L364.31,216.67 L365.51,217.18 L366.71,217.69 L367.90,218.21 L369.10,218.73 L370.30,219.25 L371.50,219.76 L372.69,220.27 L373.89,220.77 L375.09,221.27 L376.29,221.77 L377.49,222.26 L378.68,222.75 L379.88,223.24 L381.08,223.73 L382.28,224.21 L383.47,224.68 L384.67,225.15 L385.87,225.62 L387.07,226.08 L388.27,226.53 L389.46,226.99 L390.66,227.44 L391.86,227.88 L393.06,228.32 L394.25,228.76 L395.45,229.18 L396.65,229.59 L397.85,230.00 L399.05,230.39 L400.24,230.77 L401.44,231.15 L402.64,231.52 L403.84,231.88 L405.03,232.24 L406.23,232.59 L407.43,232.95 L408.63,233.30 L409.82,233.65 L411.02,234.01 L412.22,234.37 L413.42,234.74 L414.62,235.11 L415.81,235.47 L417.01,235.83 L418.21,236.16 L419.41,236.48 L420.60,236.78 L421.80,237.04 L423.00,237.28 L424.20,237.49 L425.40,237.69 L426.59,237.87 L427.79,238.05 L428.99,238.23 L430.19,238.41 L431.38,238.59 L432.58,238.80 L433.78,239.02 L434.98,239.25 L436.18,239.50 L437.37,239.75 L438.57,240.02 L439.77,240.29 L440.97,240.58 L442.16,240.88 L443.36,241.19 L444.56,241.51 L445.76,241.85 L446.96,242.21 L448.15,242.59 L449.35,242.99 L450.55,243.41 L451.75,243.85 L452.94,244.31 L454.14,244.78 L455.34,245.26 L456.54,245.75 L457.74,246.24 L458.93,246.77 L460.13,247.36 L461.33,247.98 L462.53,248.62 L463.72,249.27 L464.92,249.90 L466.12,250.50 L467.32,251.06 L468.51,251.55 L469.71,251.95 L470.91,252.29 L472.11,252.60 L473.31,252.88 L474.50,253.14 L475.70,253.38 L476.90,253.62 L478.10,253.85 L479.29,254.08 L480.49,254.32 L481.69,254.57 L482.89,254.83 L484.09,255.08 L485.28,255.33 L486.48,255.58 L487.68,255.83 L488.88,256.09 L490.07,256.35 L491.27,256.62 L492.47,256.90 L493.67,257.19 L494.87,257.51 L496.06,257.87 L497.26,258.26 L498.46,258.66 L499.66,259.06 L500.85,259.45 L502.05,259.82 L503.25,260.15 L504.45,260.42 L505.64,260.64 L506.84,260.80 L508.04,260.93 L509.24,261.04 L510.44,261.14 L511.63,261.23 L512.83,261.32 L514.03,261.42 L515.23,261.54 L516.42,261.68 L517.62,261.85 L518.82,262.09 L520.02,262.40 L521.22,262.77 L522.41,263.21 L523.61,263.70 L524.81,264.25 L526.01,264.83 L527.20,265.44 L528.40,266.09 L529.60,266.76" fill="none" stroke="#00ffff" stroke-width="4.0" stroke-linejoin="round" stroke-linecap="round"/>
<circle cx="50.50" cy="14.00" r="4.1" fill="#00ffff"/>
<circle cx="146.32" cy="118.12" r="4.1" fill="#00ffff"/>
<circle cx="242.14" cy="167.77" r="4.1" fill="#00ffff"/>
<circle cx="337.96" cy="208.14" r="4.1" fill="#00ffff"/>
<circle cx="433.78" cy="239.02" r="4.1" fill="#00ffff"/>
<circle cx="529.60" cy="266.76" r="4.1" fill="#00ffff"/>
<text x="50.50" y="329.8" text-anchor="middle" class="t">0</text>
<text x="98.41" y="329.8" text-anchor="middle" class="t">200</text>
<text x="146.32" y="329.8" text-anchor="middle" class="t">400</text>
<text x="194.23" y="329.8" text-anchor="middle" class="t">600</text>
<text x="242.14" y="329.8" text-anchor="middle" class="t">800</text>
<text x="290.05" y="329.8" text-anchor="middle" class="t">1000</text>
<text x="337.96" y="329.8" text-anchor="middle" class="t">1200</text>
<text x="385.87" y="329.8" text-anchor="middle" class="t">1400</text>
<text x="433.78" y="329.8" text-anchor="middle" class="t">1600</text>
<text x="481.69" y="329.8" text-anchor="middle" class="t">1800</text>
<text x="529.60" y="329.8" text-anchor="middle" class="t">2000</text>
<text x="45.5" y="19.40" text-anchor="end" class="t">100</text>
<text x="45.5" y="78.94" text-anchor="end" class="t">95</text>
<text x="45.5" y="138.48" text-anchor="end" class="t">90</text>
<text x="45.5" y="198.02" text-anchor="end" class="t">85</text>
<text x="45.5" y="257.56" text-anchor="end" class="t">80</text>
<text x="45.5" y="317.10" text-anchor="end" class="t">75</text>
<text x="290" y="349.5" text-anchor="middle" class="lab">Cycle Times</text>
<text transform="translate(18,163) rotate(-90)" text-anchor="middle" class="lab">Capacity percentage (%)</text>
<rect x="399.5" y="20" width="124.20" height="78.80" fill="#fff" stroke="#555" stroke-width="1"/>
<line x1="402.2" y1="29" x2="424.5" y2="29" stroke="#ff0000" stroke-width="4.0"/>
<circle cx="413.20" cy="29.00" r="5.1" fill="#ff0000"/>
<text x="426.6" y="34.00" class="lg">Type I CC-CV</text>
<line x1="402.2" y1="44.5" x2="424.5" y2="44.5" stroke="#0000ff" stroke-width="4.0"/>
<polygon points="413.20,36.70 419.60,48.40 406.80,48.40" fill="#0000ff"/>
<text x="426.6" y="49.50" class="lg">Type II CC-CV</text>
<line x1="402.2" y1="59.9" x2="424.5" y2="59.9" stroke="#00ff00" stroke-width="4.0"/>
<polygon points="413.20,53.10 419.30,59.90 413.20,66.70 407.10,59.90" fill="#00ff00"/>
<text x="426.6" y="64.90" class="lg">Type III CC-CV</text>
<line x1="402.2" y1="75.3" x2="424.5" y2="75.3" stroke="#ff00ff" stroke-width="4.0"/>
<rect x="408.50" y="70.60" width="9.40" height="9.40" fill="#ff00ff"/>
<text x="426.6" y="80.30" class="lg">CP-CV</text>
<line x1="402.2" y1="90.7" x2="424.5" y2="90.7" stroke="#00ffff" stroke-width="4.0"/>
<circle cx="413.20" cy="90.70" r="4.1" fill="#00ffff"/>
<text x="426.6" y="95.70" class="lg">CL-CV</text>
</g>
</svg></div>
</body></html>
